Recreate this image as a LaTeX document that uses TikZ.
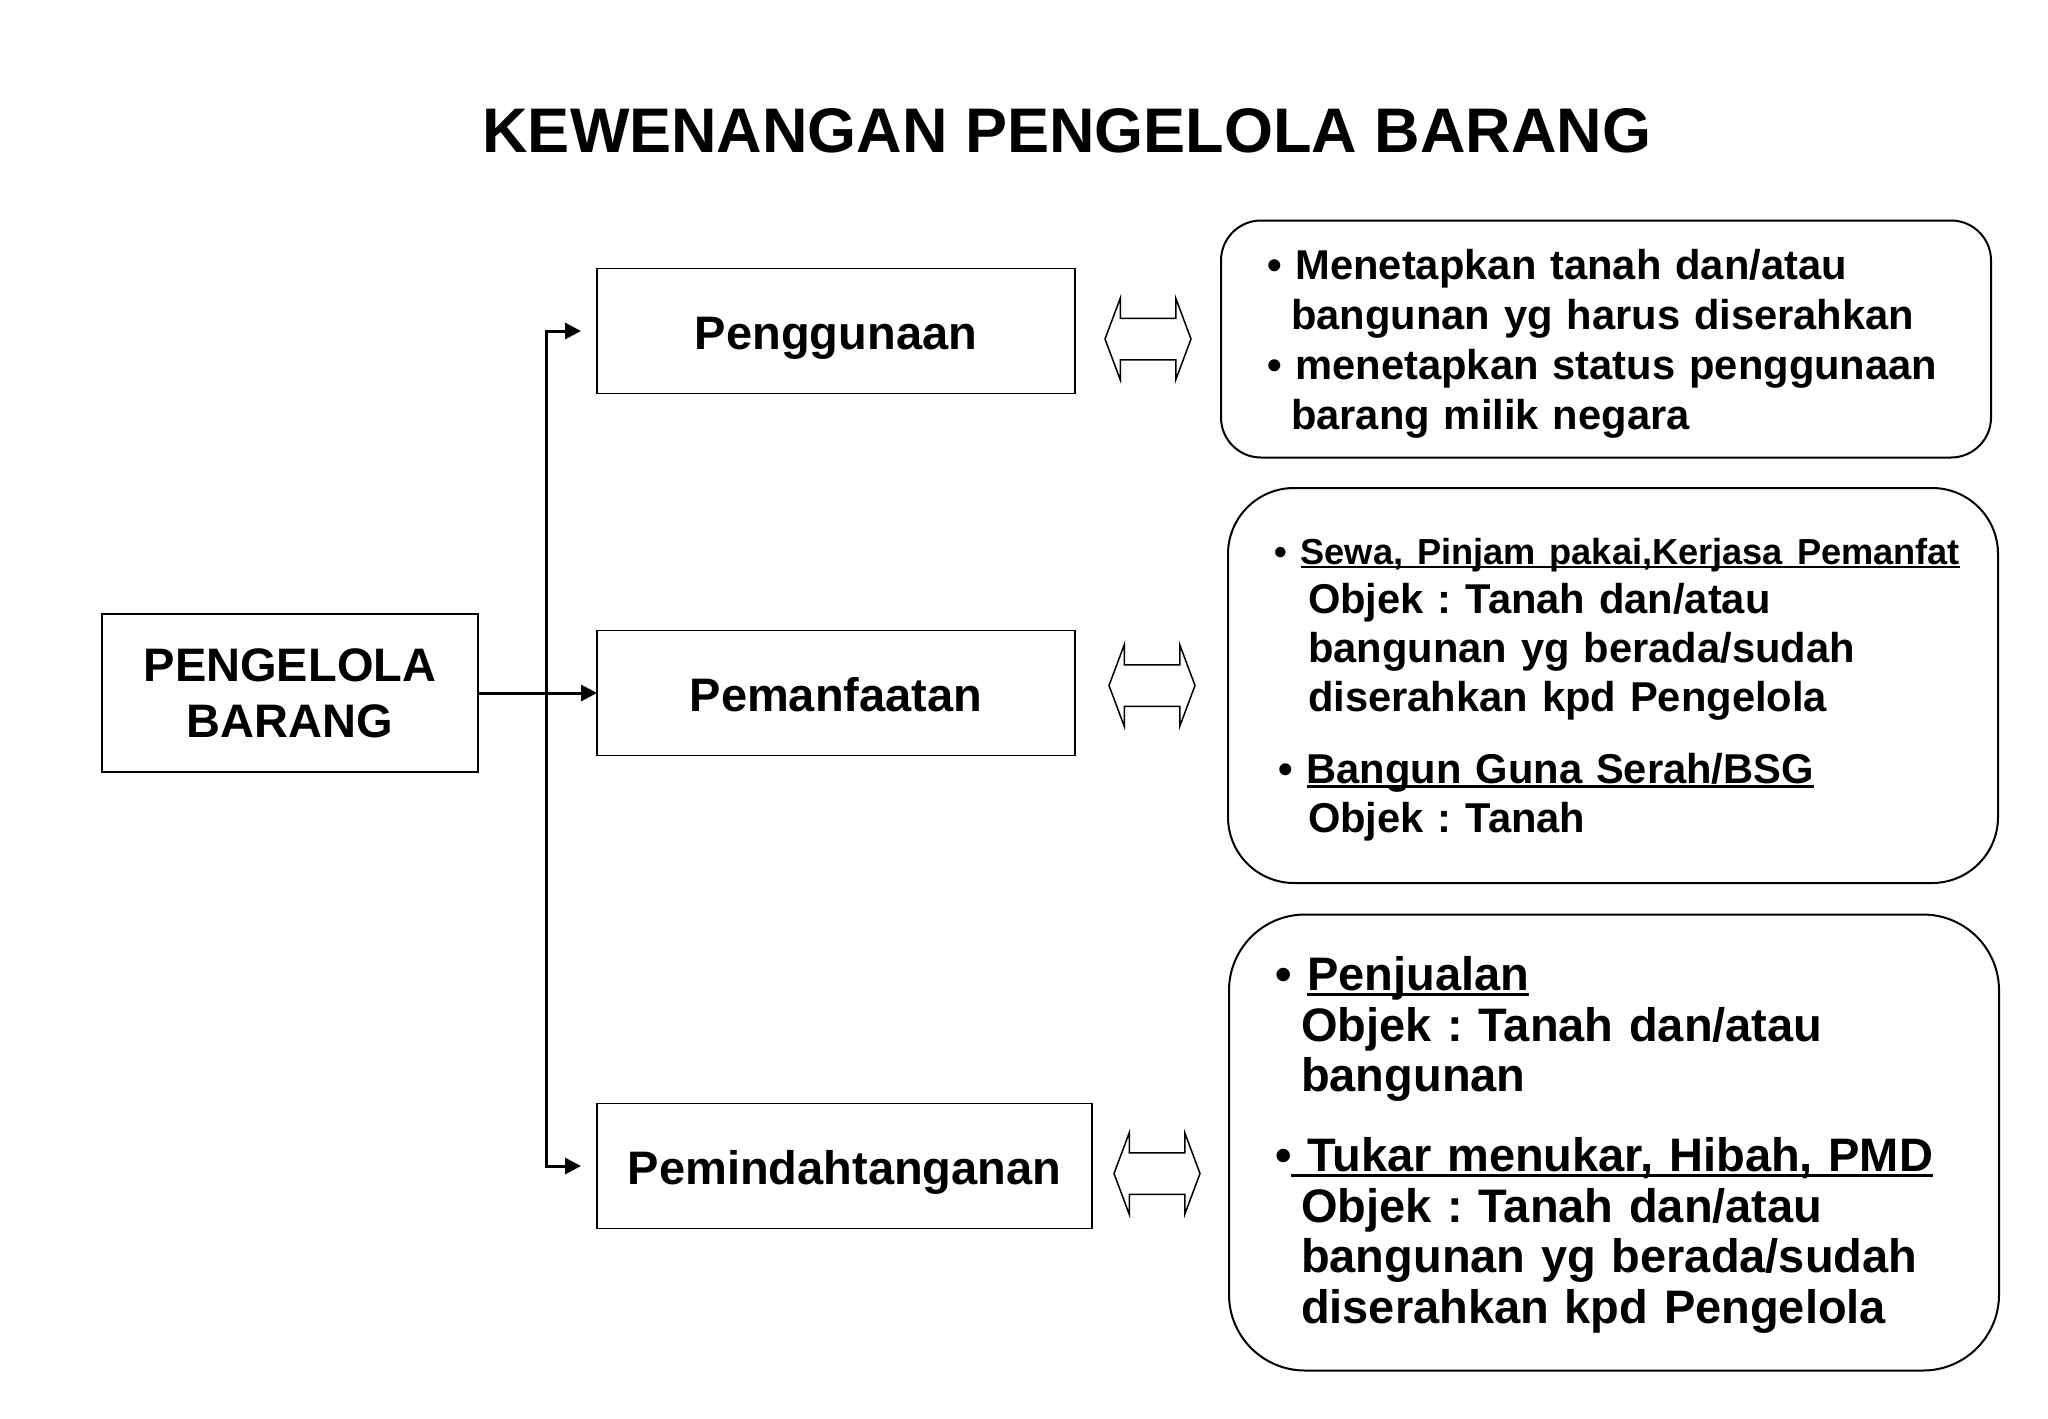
\documentclass[tikz,border=0pt]{standalone}
\usepackage{fontspec}
\setmainfont{Liberation Sans}
\usetikzlibrary{
arrows.meta,
positioning,
calc,
shapes.arrows
}
\frenchspacing
\newcommand{\ulin}[1]{\setbox0\hbox{#1}\rlap{\rule[-0.11em]{\wd0}{0.06em}}\box0}

\begin{document}
\begin{tikzpicture}[
    x=0.5pt, y=-0.5pt,
    every node/.style={outer sep=0pt},
    >={Triangle[length=8pt,width=8pt]},
    box/.style={draw, thick,
      font=\bfseries\fontsize{23.5pt}{28pt}\selectfont,
      inner sep=0pt,
      minimum width=239pt,
      minimum height=62.5pt},
    stage/.style={box, text height=21.5pt, text depth=3pt},
    info/.style={draw, line width=1pt,
      font=\bfseries\fontsize{20.85pt}{25pt}\selectfont,
      inner sep=0pt,
      align=left,
      text width=380pt,
      execute at begin node={\leftskip=20.5pt},
      text height=15pt,
      minimum width=385pt},
    dbl/.style={draw, line width=0.75pt, double arrow,
      double arrow head extend=10pt,
      double arrow tip angle=139,
      inner xsep=0pt, inner ysep=10pt,
      minimum height=43pt},
    link/.style={line width=1.5pt, ->}
  ]
  \useasboundingbox (0,0) rectangle (2048,1418);
  \node[anchor=base, font=\bfseries\fontsize{31.5pt}{36pt}\selectfont] (title) at (1067,152) {KEWENANGAN PENGELOLA BARANG};

  \node[box, align=center, minimum width=188pt, minimum height=79pt] (PB) at (290,693) {PENGELOLA\\BARANG};
  \node[stage, right=59.5pt of PB] (Manfaat) {Pemanfaatan};
  \node[stage, above=118.5pt of Manfaat] (Guna) {Penggunaan};
  \node[stage, minimum width=247.5pt, below=174pt of Manfaat.south west, anchor=north west] (Pindah) {Pemindahtanganan};

  \node[dbl, right=15pt of Guna, yshift=-4pt] (dGuna) {};
  \node[dbl, right=17pt of Manfaat, yshift=3.75pt] (dManfaat) {};
  \node[dbl, right=11pt of Pindah, yshift=-3.75pt] (dPindah) {};

  \node[info, minimum height=118.5pt, rounded corners=20pt, text depth=74.5pt, right=15pt of dGuna] (rGuna) {%
    • Menetapkan tanah dan/atau\\
    \hspace*{12pt}bangunan yg harus diserahkan\\
    • menetapkan status penggunaan\\
    \hspace*{12pt}barang milik negara};
  \node[info, minimum height=197.5pt, rounded corners=33pt, text depth=136.5pt,
    font=\bfseries\fontsize{20.85pt}{24.5pt}\selectfont, right=16.5pt of dManfaat] (rManfaat) {%
    {\fontsize{18.1pt}{24.5pt}\selectfont •~\ulin{Sewa, Pinjam pakai,Kerjasa Pemanfat}}\\
    \hspace*{17pt}Objek : Tanah dan/atau\\
    \hspace*{17pt}bangunan yg berada/sudah\\
    \hspace*{17pt}diserahkan kpd Pengelola\\[11.5pt]
    \hspace*{2pt}•~\ulin{Bangun Guna Serah/BSG}\\
    \hspace*{17pt}Objek : Tanah};
  \node[info, minimum height=228pt, rounded corners=38pt, text depth=167pt,
    font=\bfseries\fontsize{23.5pt}{25.25pt}\selectfont, right=14.5pt of dPindah, yshift=15.5pt] (rPindah) {%
    •~\ulin{Penjualan}\\
    \hspace*{13pt}Objek : Tanah dan/atau\\
    \hspace*{13pt}bangunan\\[14.75pt]
    •\ulin{ Tukar menukar, Hibah, PMD}\\
    \hspace*{13pt}Objek : Tanah dan/atau\\
    \hspace*{13pt}bangunan yg berada/sudah\\
    \hspace*{13pt}diserahkan kpd Pengelola};

  \coordinate (split) at ($(PB.east)+(34pt,0)$);
  \draw[link] (PB) -- (Manfaat);
  \draw[link, shorten >=8pt] (split) |- (Guna.west);
  \draw[link, shorten >=8pt] (split) |- (Pindah.west);
\end{tikzpicture}
\end{document}
